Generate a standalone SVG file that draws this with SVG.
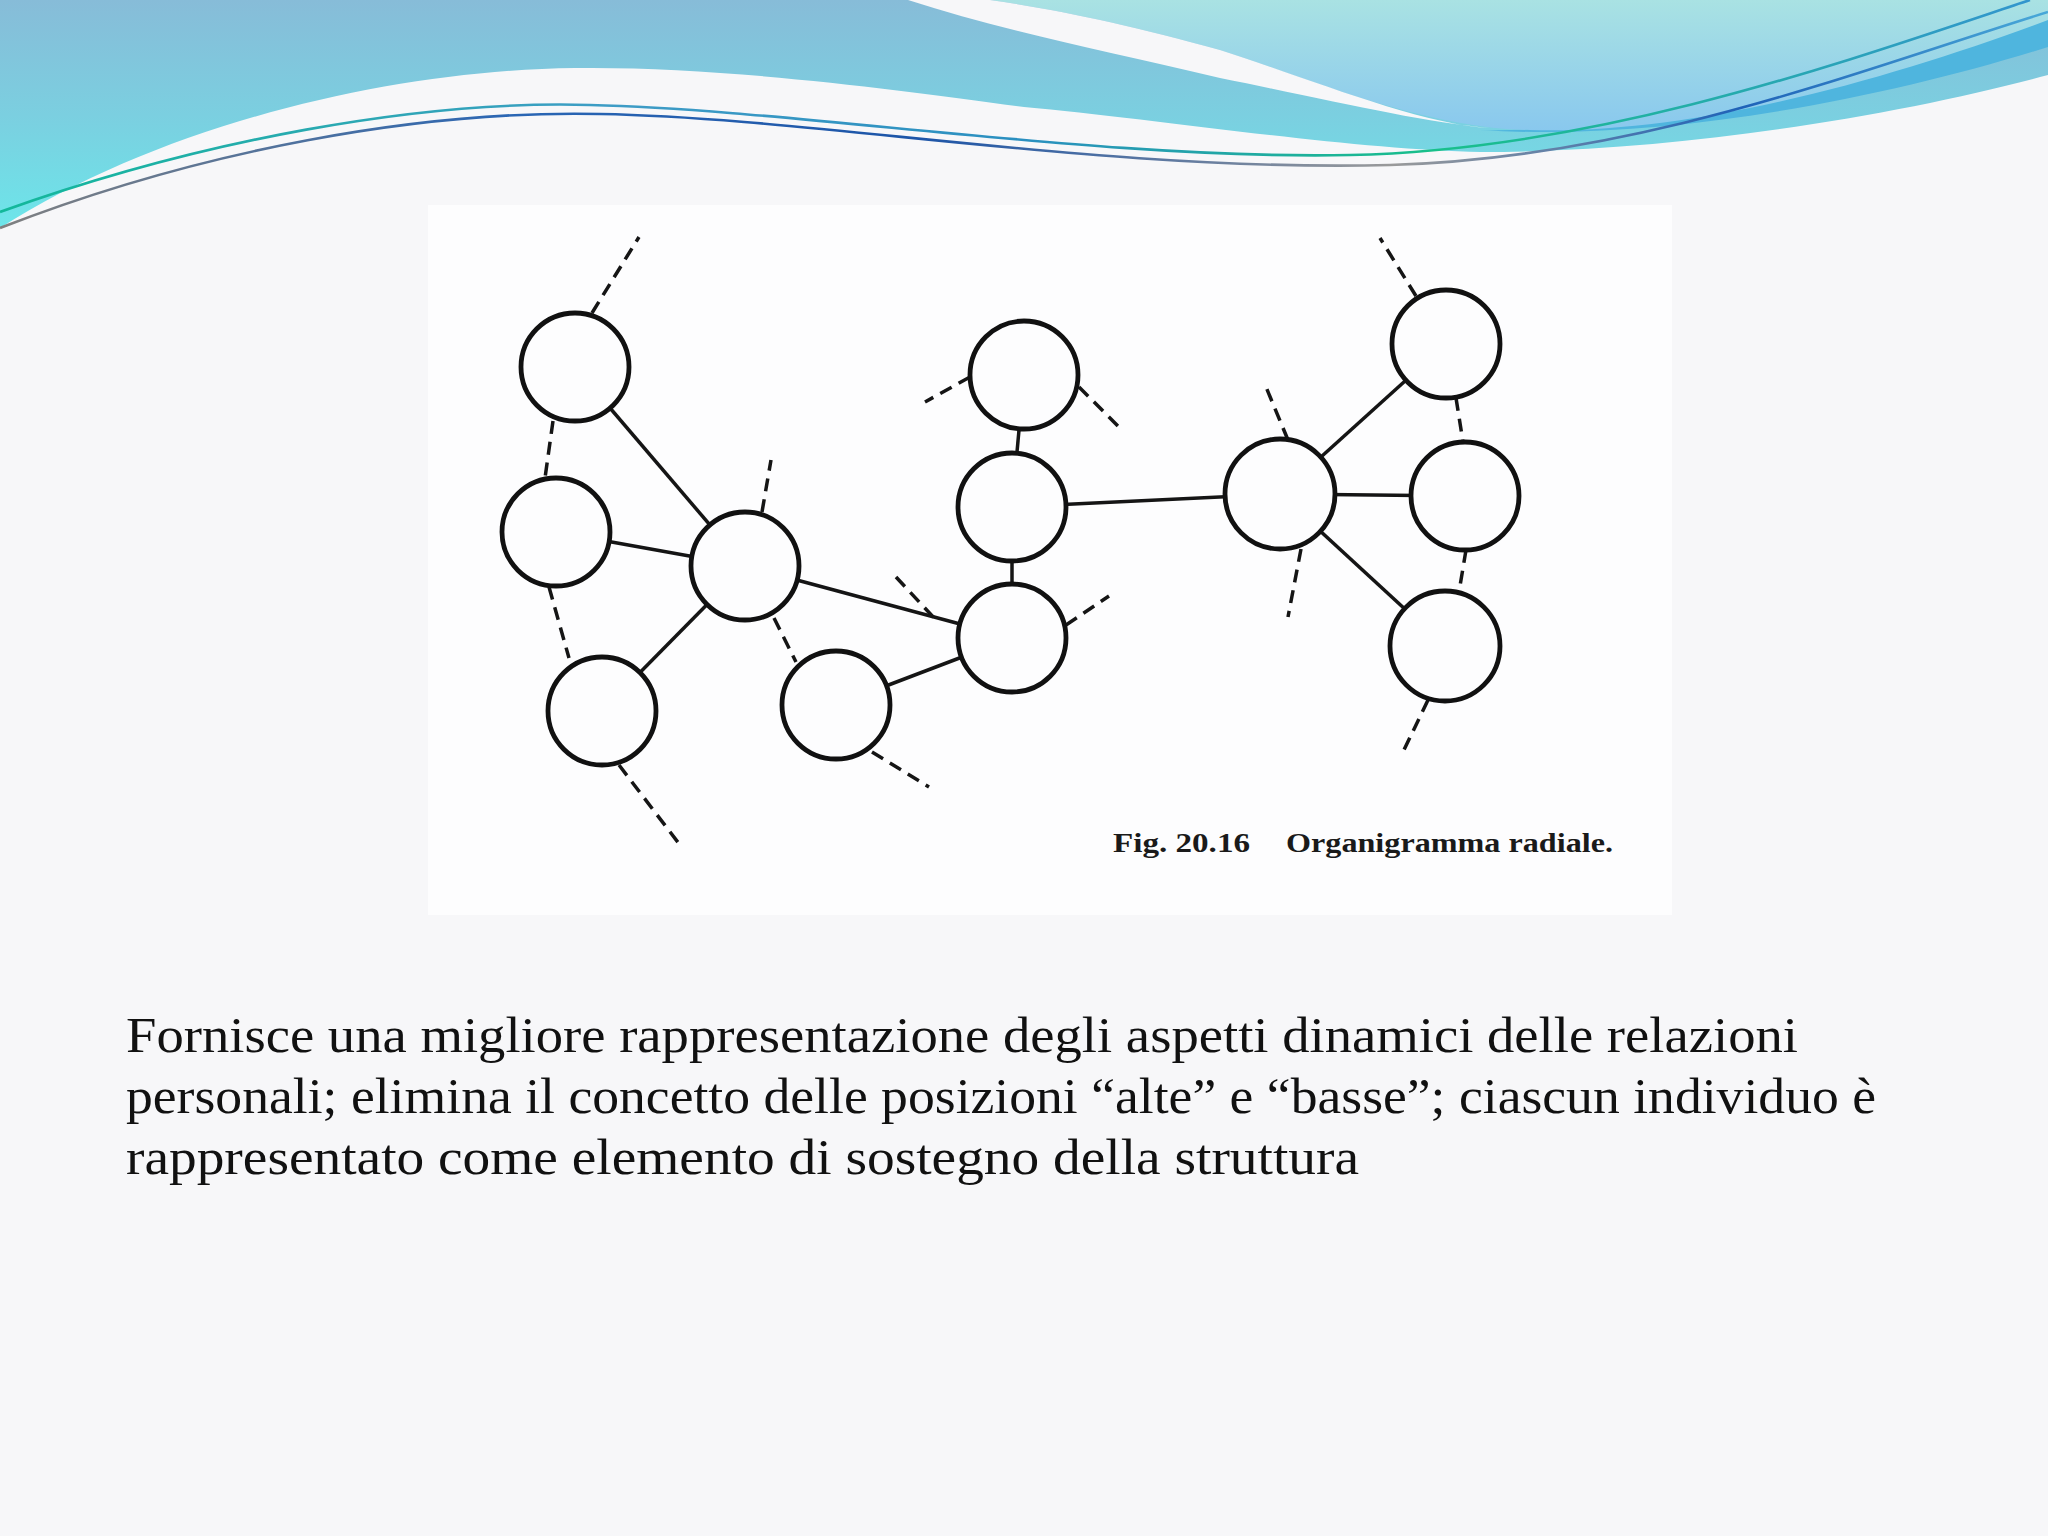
<svg xmlns="http://www.w3.org/2000/svg" width="2048" height="1536" viewBox="0 0 2048 1536">
<defs>
<linearGradient id="gP" x1="0" y1="0" x2="0" y2="230" gradientUnits="userSpaceOnUse">
<stop offset="0" stop-color="#87bcd8"/>
<stop offset="0.5" stop-color="#7bcfe0"/>
<stop offset="1" stop-color="#6ce6ea"/>
</linearGradient>
<linearGradient id="gQ" x1="0" y1="0" x2="0" y2="135" gradientUnits="userSpaceOnUse">
<stop offset="0" stop-color="#a9e2e3"/>
<stop offset="1" stop-color="#88c7ee"/>
</linearGradient>
<linearGradient id="gLa" x1="0" y1="0" x2="2048" y2="0" gradientUnits="userSpaceOnUse">
<stop offset="0" stop-color="#12b89a"/>
<stop offset="0.3" stop-color="#3e9cc6"/>
<stop offset="0.5" stop-color="#2a8fc0"/>
<stop offset="0.7" stop-color="#18c08a"/>
<stop offset="1" stop-color="#3394d0"/>
</linearGradient>
<linearGradient id="gLb" x1="0" y1="0" x2="2048" y2="0" gradientUnits="userSpaceOnUse">
<stop offset="0" stop-color="#808080"/>
<stop offset="0.25" stop-color="#2a66b4"/>
<stop offset="0.45" stop-color="#1d55a8"/>
<stop offset="0.68" stop-color="#9a9a9a"/>
<stop offset="0.85" stop-color="#1f62b8"/>
<stop offset="1" stop-color="#48a8d8"/>
</linearGradient>
<style>
.node{fill:#fdfdfe;stroke:#111;stroke-width:4.8}
.solid{stroke:#151515;stroke-width:3.5;fill:none}
.dash{stroke:#151515;stroke-width:3.5;fill:none;stroke-dasharray:13 8}
.body{font-family:"Liberation Serif","DejaVu Serif",serif;font-size:50px;fill:#111}
.cap{font-family:"Liberation Serif","DejaVu Serif",serif;font-size:28px;font-weight:bold;fill:#1a1a1a}
</style>
</defs>

<rect x="0" y="0" width="2048" height="1536" fill="#f7f7f9"/>

<g id="header">
<path d="M0,0 H2048 V75 C1900,115 1680,152 1481,152 C1350,150 1150,118 1024,107 C900,90 720,66 575,68 C400,70 170,120 0,228 Z" fill="url(#gP)"/>
<path d="M1480,130 C1650,135 1880,60 2048,10 L2048,47 C1880,100 1660,142 1480,130 Z" fill="#4fb5de"/>
<path d="M990,0 H2048 V20 C1900,75 1700,135 1530,130 C1420,128 1300,75 1220,50 C1130,25 1060,10 990,0 Z" fill="url(#gQ)"/>
<path d="M908,0 L990,0 C1060,10 1130,25 1220,50 C1300,75 1420,125 1490,128 C1420,122 1330,100 1220,78 C1100,50 1000,30 908,0 Z" fill="#f7f7f9"/>
<path d="M0,212 C200,140 420,100 590,105 C800,110 1100,160 1350,155 C1600,150 1850,60 2030,0" fill="none" stroke="url(#gLa)" stroke-width="2.6"/>
<path d="M0,228 C200,150 420,110 600,114 C820,118 1100,172 1390,165 C1640,158 1860,70 2048,12" fill="none" stroke="url(#gLb)" stroke-width="2.6"/>
</g>

<rect id="figure-bg" x="428" y="205" width="1244" height="710" fill="#fdfdfe"/>

<g id="connectors">
<line class="solid" x1="575" y1="367" x2="745" y2="566"/>
<line class="solid" x1="556" y1="532" x2="745" y2="566"/>
<line class="solid" x1="602" y1="711" x2="745" y2="566"/>
<line class="solid" x1="745" y1="566" x2="1012" y2="638"/>
<line class="solid" x1="836" y1="705" x2="1012" y2="638"/>
<line class="solid" x1="1024" y1="375" x2="1012" y2="507"/>
<line class="solid" x1="1012" y1="507" x2="1012" y2="638"/>
<line class="solid" x1="1012" y1="507" x2="1280" y2="494"/>
<line class="solid" x1="1280" y1="494" x2="1446" y2="344"/>
<line class="solid" x1="1280" y1="494" x2="1465" y2="496"/>
<line class="solid" x1="1280" y1="494" x2="1445" y2="646"/>
<line class="dash" x1="592" y1="313" x2="639" y2="237"/>
<line class="dash" x1="553" y1="421" x2="545" y2="478"/>
<line class="dash" x1="549" y1="587" x2="569" y2="658"/>
<line class="dash" x1="619" y1="765" x2="680" y2="845"/>
<line class="dash" x1="762" y1="512" x2="771" y2="460"/>
<line class="dash" x1="774" y1="618" x2="796" y2="662"/>
<line class="dash" x1="872" y1="752" x2="929" y2="787"/>
<line class="dash" x1="896" y1="577" x2="935" y2="619"/>
<line class="dash" x1="1066" y1="625" x2="1109" y2="596"/>
<line class="dash" x1="970" y1="377" x2="925" y2="402"/>
<line class="dash" x1="1079" y1="387" x2="1123" y2="431"/>
<line class="dash" x1="1288" y1="440" x2="1266" y2="387"/>
<line class="dash" x1="1301" y1="549" x2="1288" y2="617"/>
<line class="dash" x1="1416" y1="296" x2="1380" y2="238"/>
<line class="dash" x1="1456" y1="398" x2="1463" y2="442"/>
<line class="dash" x1="1466" y1="550" x2="1459" y2="592"/>
<line class="dash" x1="1428" y1="700" x2="1403" y2="752"/>
</g>

<g id="node-a"><circle class="node" cx="575" cy="367" r="54"/></g>
<g id="node-b"><circle class="node" cx="556" cy="532" r="54"/></g>
<g id="node-c"><circle class="node" cx="745" cy="566" r="54"/></g>
<g id="node-d"><circle class="node" cx="602" cy="711" r="54"/></g>
<g id="node-e"><circle class="node" cx="836" cy="705" r="54"/></g>
<g id="node-f"><circle class="node" cx="1024" cy="375" r="54"/></g>
<g id="node-g"><circle class="node" cx="1012" cy="507" r="54"/></g>
<g id="node-h"><circle class="node" cx="1012" cy="638" r="54"/></g>
<g id="node-i"><circle class="node" cx="1280" cy="494" r="55"/></g>
<g id="node-j"><circle class="node" cx="1446" cy="344" r="54"/></g>
<g id="node-k"><circle class="node" cx="1465" cy="496" r="54"/></g>
<g id="node-l"><circle class="node" cx="1445" cy="646" r="55"/></g>

<g id="caption">
<text class="cap" x="1113" y="852" textLength="137" lengthAdjust="spacingAndGlyphs">Fig. 20.16</text>
<text class="cap" x="1286" y="852" textLength="327" lengthAdjust="spacingAndGlyphs">Organigramma radiale.</text>
</g>

<g id="body-text">
<text class="body" x="126" y="1052" textLength="1672" lengthAdjust="spacingAndGlyphs">Fornisce una migliore rappresentazione degli aspetti dinamici delle relazioni</text>
<text class="body" x="126" y="1113" textLength="1750" lengthAdjust="spacingAndGlyphs">personali; elimina il concetto delle posizioni “alte” e “basse”; ciascun individuo è</text>
<text class="body" x="126" y="1174" textLength="1233" lengthAdjust="spacingAndGlyphs">rappresentato come elemento di sostegno della struttura</text>
</g>
</svg>
